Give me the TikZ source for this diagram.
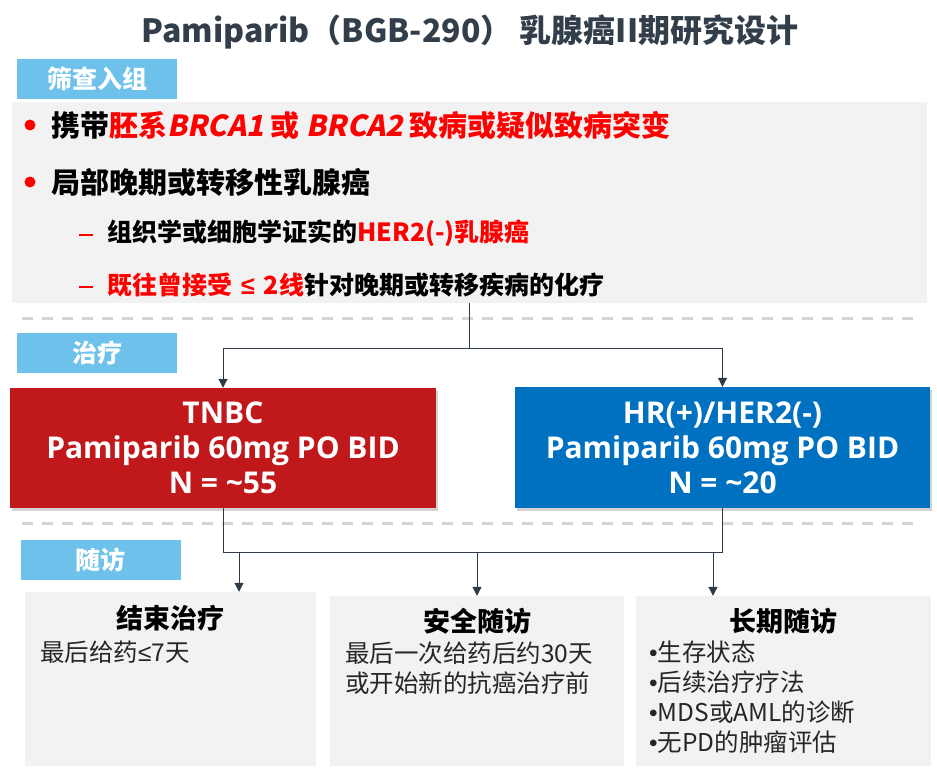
\documentclass[tikz,border=0pt]{standalone}
\usepackage{fontspec}
\setmainfont{Noto Sans CJK SC}
\newfontfamily\brcafont[FakeSlant=0.2]{Noto Sans CJK SC}
\newfontfamily\armfont{Open Sans}
\newfontfamily\symfont{Liberation Sans}
\usetikzlibrary{arrows.meta,shadows}
\definecolor{tabblue}{HTML}{6DC1EA}
\definecolor{panel}{HTML}{F2F2F2}
\definecolor{tnbcred}{HTML}{C0181B}
\definecolor{hrblue}{HTML}{0070C0}
\definecolor{linec}{HTML}{2F3B48}
\definecolor{sepc}{HTML}{D3D6D9}
\definecolor{titlec}{HTML}{323E4A}
\definecolor{bodyc}{HTML}{262626}

\begin{document}
\begin{tikzpicture}[x=1pt,y=-1pt,
    tabbox/.style={fill=tabblue, text=white, inner sep=0, minimum width=160pt, minimum height=40pt, font=\fontsize{25}{28}\selectfont\bfseries},
    armbox/.style={fill=#1, text=white, inner sep=0, align=center, font=\armfont\fontsize{30}{35}\selectfont\bfseries, drop shadow={shadow xshift=2pt, shadow yshift=-3pt, opacity=.35}},
    panelbox/.style={fill=panel, inner sep=0},
    wire/.style={draw=linec, line width=1pt},
    conn/.style={wire, -{Triangle[width=9pt,length=9pt]}},
    sepline/.style={draw=sepc, line width=3pt, dash pattern=on 11pt off 9pt},
    bigtxt/.style={anchor=west, inner sep=0, font=\fontsize{29}{32}\selectfont\bfseries},
    smalltxt/.style={anchor=west, inner sep=0, font=\fontsize{25}{28}\selectfont\bfseries},
    reddot/.style={circle, fill=red, inner sep=0, minimum size=11pt},
    reddash/.style={fill=red, inner sep=0, minimum width=14pt, minimum height=2.6pt},
    headtxt/.style={inner sep=0, font=\fontsize{27}{30}\selectfont\bfseries},
    bodytxt/.style={anchor=west, inner sep=0, align=left, text=bodyc, font=\fontsize{24.5}{30}\selectfont}]
  \useasboundingbox (0,0) rectangle (937,772);

  % title
  \node (T) at (470,32) [font=\fontsize{32}{36}\selectfont\bfseries, text=titlec] {Pamiparib（BGB-290） 乳腺癌II期研究设计};

  % screening
  \node (S) at (469.5,202.5) [panelbox, minimum width=915pt, minimum height=201pt] {};
  \node (tab1) at (97,79) [tabbox] {筛查入组};
  \node (d1) at (30,125) [reddot] {};
  \node (b1) at (51,125) [bigtxt] {携带{\color{red}胚系{\brcafont BRCA1} 或 {\brcafont BRCA2} 致病或疑似致病突变}};
  \node (d2) at (30,182) [reddot] {};
  \node (b2) at (51,182) [bigtxt] {局部晚期或转移性乳腺癌};
  \node (m1) at (86,235) [reddash] {};
  \node (c1) at (107,233) [smalltxt] {组织学或细胞学证实的{\color{red}HER2(-)乳腺癌}};
  \node (m2) at (86,287) [reddash] {};
  \node (c2) at (107,285) [smalltxt] {{\color{red}既往曾接受\hspace{9pt}{\symfont ≤}\hspace{9pt}2线}针对晚期或转移疾病的化疗};

  \draw[sepline] (22,318) -- (920,318);
  \draw[sepline] (22,523) -- (920,523);

  % treatment
  \node (tab2) at (97,352.5) [tabbox] {治疗};
  \node (R) at (223,448) [armbox=tnbcred, minimum width=426pt, minimum height=120pt] {TNBC\\Pamiparib 60mg PO BID\\N = \textasciitilde55};
  \node (B) at (722.5,447.5) [armbox=hrblue, minimum width=415pt, minimum height=121pt] {HR(+)/HER2(-)\\Pamiparib 60mg PO BID\\N = \textasciitilde20};

  % follow-up
  \node (tab3) at (100.5,560) [tabbox] {随访};
  \node (F1) at (170.5,679) [panelbox, minimum width=291pt, minimum height=174pt] {};
  \node (F2) at (477,681) [panelbox, minimum width=294pt, minimum height=170pt] {};
  \node (F3) at (783.5,681) [panelbox, minimum width=295pt, minimum height=170pt] {};
  \node (h1) at (170,618) [headtxt] {结束治疗};
  \node (h2) at (477,621) [headtxt] {安全随访};
  \node (h3) at (783,621) [headtxt] {长期随访};
  \node (e1) at (40,652) [bodytxt] {最后给药{\symfont ≤}7天};
  \node (e2) at (345,668) [bodytxt] {最后一次给药后约30天\\或开始新的抗癌治疗前};
  \node (e3) at (649,697.5) [bodytxt] {{\symfont •}生存状态\\{\symfont •}后续治疗疗法\\{\symfont •}MDS或AML的诊断\\{\symfont •}无PD的肿瘤评估};

  % connectors
  \coordinate (j1) at (469.5,348);
  \coordinate (j2) at (477,552);
  \coordinate (a1) at (239,552);
  \coordinate (a3) at (713,552);
  \draw[wire] (S.south) -- (j1);
  \draw[conn] (j1) -| (R.north);
  \draw[conn] (j1) -| (B.north);
  \draw[wire] (R.south) |- (j2) -| (B.south);
  \draw[conn] (a1) -- (a1 |- F1.north);
  \draw[conn] (j2) -- (F2.north);
  \draw[conn] (a3) -- (a3 |- F3.north);
\end{tikzpicture}
\end{document}
